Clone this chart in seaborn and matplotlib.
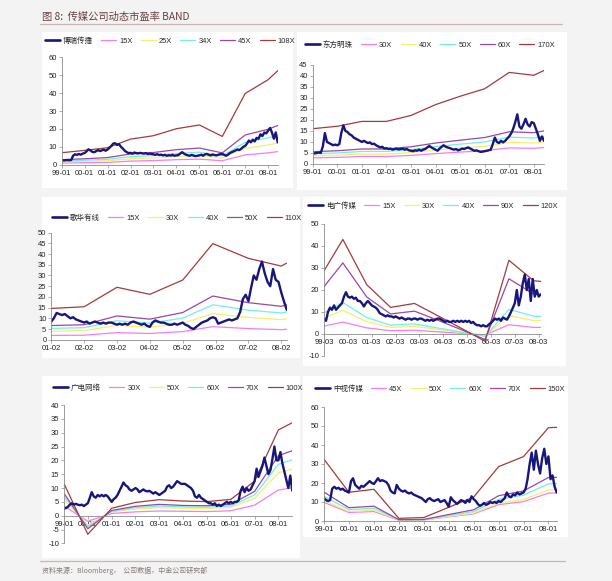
import numpy as np
import pandas as pd
import matplotlib
matplotlib.use("Agg")
import matplotlib.pyplot as plt
import matplotlib.dates as mdates
import seaborn as sns

# ---- data (monthly closes, PE band vertices) ----

# 博瑞传播
p1_price = [
    2.5, 2.4, 2.5, 2.6, 2.5, 2.6, 5.0, 5.8, 5.5, 6.0, 5.6, 6.2,
    6.5, 7.5, 8.6, 8.0, 7.2, 7.0, 7.5, 8.2, 7.6, 8.0, 8.4, 7.8,
    8.5, 9.5, 10.5, 11.8, 12.0, 11.0, 11.5, 10.0, 9.0, 7.8, 7.0, 6.5,
    6.6, 6.2, 6.8, 6.5, 6.3, 6.6, 6.4, 6.2, 6.5, 6.0, 6.2, 6.0,
    5.8, 5.5, 5.9, 5.4, 5.6, 5.2, 5.5, 5.0, 5.3, 5.1, 5.5, 5.0,
    5.2, 5.4, 6.2, 7.0, 6.2, 5.6, 5.2, 5.0, 5.5, 5.1, 4.8, 5.0,
    5.2, 5.6, 5.0, 5.8, 6.0, 5.5, 5.2, 5.7, 5.4, 5.2, 5.6, 5.9,
    6.0, 5.5, 5.0, 5.6, 6.5, 7.0, 7.5, 8.0, 8.5, 8.2, 9.0, 10.0,
    10.5, 12.0, 13.5, 12.5, 14.0, 13.0, 15.0, 14.5, 17.0, 16.0, 18.0, 17.5,
    19.0, 20.5, 18.0, 14.5, 18.0, 12.5]
p1_band_dates = ['1999-01-01', '2000-01-01', '2001-01-01', '2002-01-01', '2003-01-01', '2004-01-01',
                 '2005-01-01', '2006-01-01', '2007-01-01', '2008-01-01', '2008-06-01']
p1_15x = [0.9, 1.1, 1.3, 2.0, 2.3, 2.8, 3.1, 2.2, 5.5, 6.6, 7.3]
p1_25x = [1.6, 1.9, 2.2, 3.3, 3.8, 4.7, 5.1, 3.7, 9.2, 11.0, 12.2]
p1_34x = [2.1, 2.5, 3.0, 4.5, 5.1, 6.3, 7.0, 5.0, 12.5, 15.0, 16.5]
p1_45x = [2.8, 3.3, 4.0, 6.0, 6.8, 8.4, 9.3, 6.6, 16.6, 19.8, 21.9]
p1_108x = [6.7, 8.0, 9.5, 14.3, 16.2, 20.1, 22.2, 15.8, 39.8, 47.5, 52.5]

# 东方明珠
p2_price = [
    5.0, 4.8, 5.0, 5.2, 5.0, 8.0, 14.0, 10.0, 9.5, 9.0, 8.5, 8.8,
    8.5, 9.0, 14.0, 17.5, 15.0, 14.5, 13.5, 13.0, 12.0, 11.5, 11.0, 10.5,
    10.0, 10.5, 10.0, 9.5, 9.8, 9.0, 9.2, 8.5, 8.0, 7.5, 7.8, 7.0,
    7.2, 6.8, 7.0, 6.5, 6.8, 7.0, 6.6, 6.8, 7.0, 6.5, 6.8, 6.2,
    6.0, 5.8, 6.2, 6.0, 6.5, 6.0, 6.5, 6.8, 7.5, 8.2, 7.5, 7.0,
    6.5, 6.0, 7.0, 7.8, 8.5, 7.8, 7.5, 7.2, 6.8, 6.5, 6.8, 6.2,
    6.5, 7.0, 6.8, 7.2, 7.5, 7.0, 6.5, 6.0, 6.2, 5.8, 5.5, 5.6,
    5.8, 6.0, 6.2, 6.5, 9.0, 12.0, 10.0, 9.5, 10.5, 9.8, 10.5, 11.5,
    12.5, 14.0, 16.0, 19.0, 22.5, 17.0, 16.0, 18.0, 20.5, 18.0, 17.0, 19.0,
    18.5, 16.0, 13.5, 10.5, 12.5, 10.5]
p2_band_dates = p1_band_dates
p2_30x = [2.8, 3.0, 3.4, 3.4, 3.9, 4.7, 5.4, 6.0, 7.3, 7.1, 7.5]
p2_40x = [3.8, 4.0, 4.5, 4.5, 5.2, 6.3, 7.2, 8.0, 9.8, 9.5, 10.0]
p2_50x = [4.7, 5.0, 5.7, 5.7, 6.5, 7.9, 9.0, 10.0, 12.2, 11.8, 12.5]
p2_60x = [5.6, 6.0, 6.8, 6.8, 7.8, 9.5, 10.8, 12.0, 14.6, 14.2, 15.0]
p2_170x = [16.0, 17.1, 19.3, 19.3, 22.0, 26.9, 30.7, 34.1, 41.5, 40.2, 42.4]

# 歌华有线 (starts 2001-02)
p3_price = [
    8.5, 10.0, 12.5, 12.0, 11.5, 12.0, 11.0, 10.0, 10.5, 9.5, 9.0,
    8.5, 8.0, 8.5, 7.5, 8.0, 8.5, 8.0, 7.5, 8.0, 7.5, 8.0, 8.0,
    7.5, 7.0, 7.5, 7.0, 7.5, 7.0, 8.0, 8.5, 8.0, 7.5, 7.0, 7.5,
    6.5, 6.0, 8.0, 9.0, 8.5, 8.0, 8.0, 7.5, 7.0, 7.0, 7.5, 7.0,
    7.5, 8.0, 7.0, 6.5, 5.5, 5.0, 6.0, 7.0, 8.0, 8.5, 9.0, 10.0,
    10.5, 10.0, 7.5, 8.0, 8.5, 9.0, 9.5, 9.0, 9.5, 10.0, 13.0, 19.0,
    21.0, 18.0, 24.0, 30.0, 28.0, 33.0, 36.5, 31.0, 27.0, 25.0, 33.0, 28.0,
    27.0, 22.0, 18.0, 14.0]
p3_band_dates = ['2001-02-01', '2002-02-01', '2003-02-01', '2004-02-01', '2005-02-01',
                 '2006-01-01', '2007-02-01', '2008-02-01', '2008-04-01']
p3_15x = [2.0, 2.1, 3.3, 2.9, 3.8, 6.1, 5.2, 4.7, 4.9]
p3_30x = [4.0, 4.2, 6.7, 5.8, 7.6, 12.2, 10.4, 9.4, 9.8]
p3_40x = [5.3, 5.6, 8.9, 7.7, 10.1, 16.3, 13.8, 12.5, 13.0]
p3_50x = [6.6, 7.0, 11.1, 9.6, 12.7, 20.4, 17.3, 15.6, 16.3]
p3_110x = [14.6, 15.4, 24.5, 21.2, 27.9, 44.9, 38.0, 34.4, 35.8]

# 电广传媒 (starts 1999-03)
p4_price = [
    7.0, 6.0, 10.0, 12.0, 11.0, 13.0, 11.0, 12.0, 13.0, 14.0,
    17.0, 19.0, 17.0, 16.5, 17.0, 16.0, 16.5, 15.0, 15.0, 14.0, 12.5, 14.0,
    15.0, 14.0, 13.0, 12.5, 12.0, 11.0, 9.5, 9.0, 8.5, 8.0, 8.5, 8.0,
    8.0, 7.5, 8.0, 7.5, 7.0, 7.5, 7.0, 6.5, 7.0, 7.0, 6.5, 7.0,
    7.0, 6.5, 7.0, 7.0, 6.5, 6.0, 6.5, 6.0, 6.5, 6.0, 6.5, 7.0,
    7.0, 6.5, 6.0, 5.5, 6.0, 5.5, 5.5, 6.0, 5.5, 6.0, 5.5, 6.0,
    5.5, 6.0, 5.5, 6.0, 5.0, 5.5, 4.5, 4.0, 4.0, 3.5, 4.0, 3.5,
    3.5, 4.5, 5.0, 6.0, 7.0, 6.5, 7.0, 6.0, 7.5, 7.0, 6.5, 8.0,
    10.0, 12.0, 14.0, 20.0, 13.0, 17.0, 23.0, 27.0, 20.0, 25.0, 15.0, 25.0,
    17.0, 20.0, 17.0, 18.0]
p4_band_dates = ['1999-03-01', '1999-12-15', '2000-12-15', '2001-12-15', '2002-12-15', '2003-12-15',
                 '2004-12-15', '2005-12-01', '2006-12-01', '2007-12-15', '2008-04-01']
p4_15x = [3.6, 5.4, 2.8, 1.5, 1.7, 1.0, 0.3, -0.4, 4.2, 3.0, 3.0]
p4_30x = [7.2, 10.8, 5.6, 3.0, 3.5, 2.1, 0.6, -0.8, 8.4, 6.1, 6.0]
p4_40x = [9.6, 14.3, 7.5, 4.0, 4.6, 2.7, 0.8, -1.1, 11.2, 8.1, 8.0]
p4_90x = [21.5, 32.3, 16.8, 9.1, 10.4, 6.2, 1.8, -2.5, 25.1, 18.2, 17.9]
p4_120x = [28.7, 43.0, 22.4, 12.1, 13.9, 8.2, 2.4, -3.3, 33.5, 24.2, 23.9]

# 广电网络
p5_price = [
    2.5, 2.8, 3.2, 4.0, 4.5, 4.0, 4.3, 4.0, 3.8, 4.0, 3.5, 4.0,
    4.5, 6.5, 8.5, 7.0, 6.5, 7.5, 7.0, 7.5, 7.0, 7.5, 7.0, 6.0,
    5.0, 6.0, 6.5, 7.5, 9.0, 10.5, 12.0, 11.0, 10.5, 9.5, 9.0, 9.5,
    10.0, 9.5, 8.5, 9.0, 9.5, 9.0, 8.8, 9.0, 8.5, 8.0, 8.5, 8.0,
    7.5, 8.0, 8.5, 9.0, 10.5, 11.0, 10.0, 10.5, 11.5, 12.5, 12.0, 11.5,
    11.5, 11.5, 11.0, 10.5, 10.0, 9.0, 7.0, 6.5, 7.5, 6.5, 6.0, 5.5,
    5.0, 4.5, 4.5, 4.0, 4.5, 3.5, 4.0, 3.5, 4.0, 4.5, 5.0, 4.5,
    5.0, 4.5, 5.0, 5.0, 5.5, 9.0, 10.5, 8.5, 10.0, 9.0, 9.5, 11.0,
    12.5, 17.0, 14.0, 16.0, 18.0, 21.0, 18.0, 15.0, 16.5, 20.5, 25.0, 20.0,
    20.0, 23.0, 19.0, 16.0, 13.0, 10.0, 14.5, 9.0]
p5_band_dates = ['1999-01-01', '2000-01-01', '2001-01-01', '2002-01-01', '2003-01-01', '2004-01-01',
                 '2005-01-01', '2006-01-01', '2007-01-01', '2008-01-01', '2008-08-01']
p5_30x = [3.5, -2.0, 0.8, 1.4, 1.7, 1.6, 1.5, 1.8, 3.8, 9.3, 10.1]
p5_50x = [5.8, -3.4, 1.4, 2.4, 2.9, 2.7, 2.6, 3.0, 6.3, 15.5, 16.8]
p5_60x = [7.0, -4.0, 1.6, 2.9, 3.5, 3.2, 3.1, 3.5, 7.5, 18.6, 20.2]
p5_70x = [8.1, -4.7, 1.9, 3.4, 4.1, 3.7, 3.6, 4.1, 8.8, 21.7, 23.5]
p5_100x = [11.6, -6.7, 2.7, 4.8, 5.8, 5.3, 5.1, 5.9, 12.5, 31.0, 33.6]

# 中视传媒
p6_price = [
    12.0, 11.0, 10.5, 11.0, 17.0, 18.0, 17.0, 17.5, 16.5, 17.0, 16.0, 15.5,
    15.0, 21.0, 22.5, 19.0, 18.0, 17.0, 18.5, 18.0, 19.0, 20.0, 21.0, 20.0,
    19.5, 21.0, 22.5, 21.0, 21.5, 21.0, 20.5, 19.0, 16.0, 15.0, 14.5, 19.0,
    17.0, 16.0, 15.5, 16.0, 15.0, 14.5, 15.0, 14.0, 13.5, 13.0, 12.5, 12.0,
    11.0, 10.0, 11.5, 12.0, 11.0, 10.5, 11.0, 11.5, 10.0, 10.5, 11.0, 9.5,
    7.5, 12.5, 11.0, 10.0, 9.0, 10.0, 11.0, 10.5, 9.5, 11.0, 10.0, 13.0,
    11.5, 10.5, 9.0, 8.0, 8.5, 9.5, 8.5, 9.0, 10.0, 9.5, 10.0, 9.5,
    10.5, 10.0, 11.0, 12.0, 15.0, 13.0, 12.5, 14.0, 13.5, 15.0, 14.0, 14.5,
    15.0, 17.0, 22.0, 30.0, 36.0, 27.0, 37.0, 30.0, 25.0, 33.0, 38.0, 30.0,
    34.0, 22.0, 24.0, 18.0, 15.0]
p6_band_dates = ['1999-01-01', '2000-01-01', '2001-01-01', '2002-01-01', '2003-01-01', '2004-01-01',
                 '2005-01-01', '2006-01-01', '2007-01-01', '2008-01-01', '2008-05-01']
p6_45x = [9.8, 4.5, 5.0, 0.4, 0.5, 2.2, 3.8, 8.6, 10.2, 14.7, 14.8]
p6_50x = [10.8, 5.0, 5.6, 0.5, 0.6, 2.4, 4.2, 9.5, 11.3, 16.4, 16.4]
p6_60x = [13.0, 6.0, 6.7, 0.6, 0.7, 2.9, 5.0, 11.4, 13.6, 19.6, 19.7]
p6_70x = [15.2, 7.0, 7.8, 0.7, 0.8, 3.4, 5.9, 13.3, 15.8, 22.9, 23.0]
p6_150x = [32.5, 15.1, 16.7, 1.4, 1.8, 7.2, 12.6, 28.6, 33.9, 49.1, 49.3]

# ---- style ----
sns.set_style("ticks")
plt.rcParams['font.family'] = ['Liberation Sans', 'Noto Sans CJK SC']
plt.rcParams['axes.unicode_minus'] = False

W, H = 612, 581
stock_color = '#16167c'
band_colors = ['#f27ef2', '#f3f06a', '#72eeee', '#9a48a2', '#a03c3c']
axis_color = '#8c8c8c'

panels = [
    dict(name='博瑞传播', start='1999-01-01', price=p1_price, bdates=p1_band_dates,
         bands=[('15X', p1_15x), ('25X', p1_25x), ('34X', p1_34x), ('45X', p1_45x), ('108X', p1_108x)],
         box=(42, 32, 293, 188), ax=(61.7, 57.3, 277.7, 164.7), legend=(170, 41),
         ylim=(0, 60), ystep=10, month=1),
    dict(name='东方明珠', start='1999-01-01', price=p2_price, bdates=p2_band_dates,
         bands=[('30X', p2_30x), ('40X', p2_40x), ('50X', p2_50x), ('60X', p2_60x), ('170X', p2_170x)],
         box=(297, 32, 567, 190), ax=(312.7, 64.7, 544, 164), legend=(430, 45),
         ylim=(0, 45), ystep=5, month=1),
    dict(name='歌华有线', start='2001-02-01', price=p3_price, bdates=p3_band_dates,
         bands=[('15X', p3_15x), ('30X', p3_30x), ('40X', p3_40x), ('50X', p3_50x), ('110X', p3_110x)],
         box=(42, 197, 300, 358), ax=(51.3, 232.7, 286.7, 339.7), legend=(177, 218),
         ylim=(0, 50), ystep=5, month=2),
    dict(name='电广传媒', start='1999-03-01', price=p4_price, bdates=p4_band_dates,
         bands=[('15X', p4_15x), ('30X', p4_30x), ('40X', p4_40x), ('90X', p4_90x), ('120X', p4_120x)],
         box=(303, 197, 566, 366), ax=(324, 224, 540.7, 356), legend=(433, 206),
         ylim=(-10, 50), ystep=10, month=3),
    dict(name='广电网络', start='1999-01-01', price=p5_price, bdates=p5_band_dates,
         bands=[('30X', p5_30x), ('50X', p5_50x), ('60X', p5_60x), ('70X', p5_70x), ('100X', p5_100x)],
         box=(42, 376, 300, 558), ax=(64, 405, 292.3, 543.4), legend=(178, 388),
         ylim=(-10, 40), ystep=5, month=1),
    dict(name='中视传媒', start='1999-01-01', price=p6_price, bdates=p6_band_dates,
         bands=[('45X', p6_45x), ('50X', p6_50x), ('60X', p6_60x), ('70X', p6_70x), ('150X', p6_150x)],
         box=(303, 376, 568, 537), ax=(324, 407, 556.7, 521), legend=(440, 389),
         ylim=(0, 60), ystep=10, month=1),
]


def rect(px):
    x0, y0, x1, y1 = px
    return [x0 / W, 1 - y1 / H, (x1 - x0) / W, (y1 - y0) / H]


fig = plt.figure(figsize=(W / 100, H / 100), dpi=100, facecolor='#f3f3f3')

# title + rules
fig.text(42 / W, 1 - 17 / H, '图 8:  传媒公司动态市盈率 BAND', fontsize=7.4, color='#6a4040',
         family=['Noto Sans CJK SC'], va='center', ha='left')
fig.add_artist(plt.Line2D([40 / W, 562 / W], [1 - 23.5 / H] * 2, color='#cdb4b4', lw=0.9))
fig.add_artist(plt.Line2D([40 / W, 565 / W], [1 - 561 / H] * 2, color='#cdb4b4', lw=0.9))
fig.text(42 / W, 1 - 571 / H, '资料来源：Bloomberg，  公司数据，中金公司研究部', fontsize=5,
         color='#8a7a7a', family=['Noto Sans CJK SC'], va='center', ha='left')

for p in panels:
    box = fig.add_axes(rect(p['box']))
    box.set_facecolor('white')
    box.set_xticks([])
    box.set_yticks([])
    for s in box.spines.values():
        s.set_visible(False)

    ax = fig.add_axes(rect(p['ax']))
    ax.patch.set_alpha(0)

    dates = pd.date_range(p['start'], periods=len(p['price']), freq='MS')
    bdates = pd.to_datetime(p['bdates'])

    for (lab, vals), c in zip(p['bands'], band_colors):
        sns.lineplot(x=bdates, y=vals, ax=ax, color=c, lw=0.9, label=lab)
    sns.lineplot(x=dates, y=p['price'], ax=ax, color=stock_color, lw=1.7, label=p['name'])

    lines = ax.get_lines()
    order = [lines[-1]] + lines[:-1]
    leg = ax.legend(order, [l.get_label() for l in order], loc='center',
                    bbox_to_anchor=(p['legend'][0] / W, 1 - p['legend'][1] / H),
                    bbox_transform=fig.transFigure, ncol=6, frameon=False, fontsize=5.4,
                    handlelength=2.0, handletextpad=0.4, columnspacing=1.1,
                    borderpad=0, borderaxespad=0)
    leg.get_lines()[0].set_linewidth(1.9)

    ax.set_xlim(min(dates[0], bdates[0]), max(dates[-1], bdates[-1]))
    ax.set_ylim(*p['ylim'])
    ax.set_yticks(np.arange(p['ylim'][0], p['ylim'][1] + 1, p['ystep']))
    ax.xaxis.set_major_locator(mdates.YearLocator(1, month=p['month'], day=1))
    ax.xaxis.set_major_formatter(mdates.DateFormatter('%y-%m'))
    ax.set_xlabel('')
    ax.set_ylabel('')

    sns.despine(ax=ax)
    for s in ['left', 'bottom']:
        ax.spines[s].set_color(axis_color)
        ax.spines[s].set_linewidth(0.6)
    if p['ylim'][0] < 0:
        ax.spines['bottom'].set_position(('data', 0))
    ax.tick_params(length=2, width=0.5, color=axis_color, labelsize=5.5, pad=1.5,
                   labelcolor='#222222')

fig.savefig('out.png', dpi=100, facecolor=fig.get_facecolor())
